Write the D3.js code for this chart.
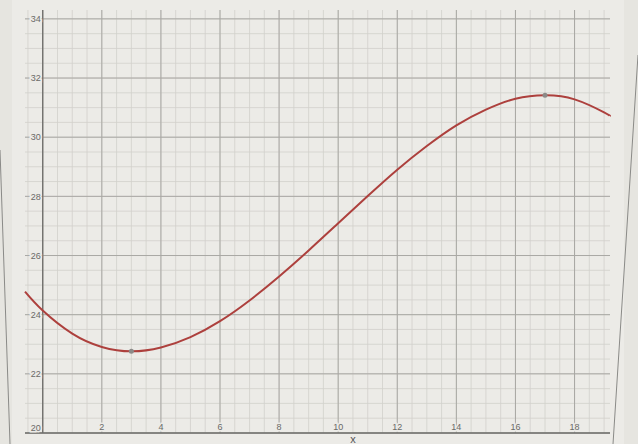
<!DOCTYPE html>
<html lang="en-US">
<head>
<meta charset="utf-8">
<script src="https://d3js.org/d3.v7.min.js"></script>
<style>
body {
  margin: 0;
  background-color: #e6e5e0;
  font-family: 'Liberation Sans', Arial, sans-serif;
}

svg {
  display: block;
}

.minor line {
  stroke: #d2d1cc;
  stroke-width: 0.8;
}

.major line {
  stroke: #a9a8a4;
  stroke-width: 1;
}

.axis-line {
  stroke: #6f6f6c;
  stroke-width: 1.3;
}

.bezel {
  stroke: #8a8a87;
  stroke-width: 1;
}

text.tick-label {
  font-size: 9px;
  fill: #6a6a67;
  stroke: #ecebe7;
  stroke-width: 3px;
  paint-order: stroke;
}

text.axis-title {
  font-size: 11px;
  fill: #555;
}

.curve {
  fill: none;
  stroke: #ad403d;
  stroke-width: 2;
}

.extremum {
  fill: #8c8a88;
}
</style>
</head>
<body>
<svg id="graph" width="638" height="444"></svg>
<script>
  // values
  const curveX = [-0.6, 0, 1, 2, 3, 4, 5, 6, 7, 8, 9, 10, 11, 12, 13, 14, 15, 16, 17, 18, 19, 19.2];
  const curveY = [24.78, 24.14, 23.36, 22.91, 22.76, 22.89, 23.24, 23.78, 24.48, 25.29, 26.17,
                  27.09, 28.01, 28.90, 29.70, 30.40, 30.93, 31.30, 31.42, 31.28, 30.84, 30.71];

  // marked turning points
  const extremaX = [3, 17];
  const extremaY = [22.76, 31.42];

  const xTicks = [2, 4, 6, 8, 10, 12, 14, 16, 18];
  const yTicks = [20, 22, 24, 26, 28, 30, 32, 34];

  const W = 638;
  const H = 444;

  const svg = d3.select('#graph');

  const xScale = d3.scaleLinear()
    .domain([-0.6, 19.2])
    .range([25, 610]);

  const yScale = d3.scaleLinear()
    .domain([20, 34.3])
    .range([433, 10]);

  const [x0, x1] = xScale.range();
  const [y0, y1] = yScale.range();

  // plot background
  svg.append('rect')
    .attr('x', 12)
    .attr('y', 0)
    .attr('width', 612)
    .attr('height', H)
    .attr('fill', '#ecebe7');

  // screen edges in the photo
  svg.append('line').attr('class', 'bezel')
    .attr('x1', 0).attr('y1', 150).attr('x2', 10).attr('y2', H);
  svg.append('line').attr('class', 'bezel')
    .attr('x1', 638).attr('y1', 55).attr('x2', 613).attr('y2', H);

  const minorX = d3.range(-0.5, 19.2, 0.5);
  const minorY = d3.range(20, 34.3, 0.5);
  const majorX = d3.range(0, 19.2, 2);

  const minor = svg.append('g').attr('class', 'minor');
  minor.selectAll('.vx')
    .data(minorX)
    .enter()
    .append('line')
    .attr('x1', (d) => xScale(d))
    .attr('x2', (d) => xScale(d))
    .attr('y1', y0)
    .attr('y2', y1);
  minor.selectAll('.hy')
    .data(minorY)
    .enter()
    .append('line')
    .attr('x1', x0)
    .attr('x2', x1)
    .attr('y1', (d) => yScale(d))
    .attr('y2', (d) => yScale(d));

  const major = svg.append('g').attr('class', 'major');
  major.selectAll('.vx')
    .data(majorX)
    .enter()
    .append('line')
    .attr('x1', (d) => xScale(d))
    .attr('x2', (d) => xScale(d))
    .attr('y1', y0)
    .attr('y2', y1);
  major.selectAll('.hy')
    .data(yTicks)
    .enter()
    .append('line')
    .attr('x1', x0)
    .attr('x2', x1)
    .attr('y1', (d) => yScale(d))
    .attr('y2', (d) => yScale(d));

  // axes
  svg.append('line').attr('class', 'axis-line')
    .attr('x1', xScale(0)).attr('x2', xScale(0))
    .attr('y1', y0).attr('y2', y1);
  svg.append('line').attr('class', 'axis-line')
    .attr('x1', x0).attr('x2', x1)
    .attr('y1', yScale(20)).attr('y2', yScale(20));

  // tick labels
  svg.selectAll('.ylab')
    .data(yTicks)
    .enter()
    .append('text')
    .attr('class', 'tick-label')
    .attr('x', xScale(0) - 2)
    .attr('y', (d) => Math.min(yScale(d), y0 - 5))
    .attr('dy', '0.35em')
    .attr('text-anchor', 'end')
    .text((d) => d);

  svg.selectAll('.xlab')
    .data(xTicks)
    .enter()
    .append('text')
    .attr('class', 'tick-label')
    .attr('x', (d) => xScale(d))
    .attr('y', y0 - 3)
    .attr('text-anchor', 'middle')
    .text((d) => d);

  svg.append('text')
    .attr('class', 'axis-title')
    .attr('x', xScale(10.5))
    .attr('y', H - 1)
    .attr('text-anchor', 'middle')
    .text('x');

  // the curve
  const points = curveX.map((x, i) => [x, curveY[i]]);

  const line = d3.line()
    .x((d) => xScale(d[0]))
    .y((d) => yScale(d[1]))
    .curve(d3.curveNatural);

  svg.append('path')
    .datum(points)
    .attr('class', 'curve')
    .attr('d', line);

  svg.selectAll('.extremum')
    .data(extremaX)
    .enter()
    .append('circle')
    .attr('class', 'extremum')
    .attr('cx', (d) => xScale(d))
    .attr('cy', (d, i) => yScale(extremaY[i]))
    .attr('r', 2.5);
</script>
</body>
</html>
